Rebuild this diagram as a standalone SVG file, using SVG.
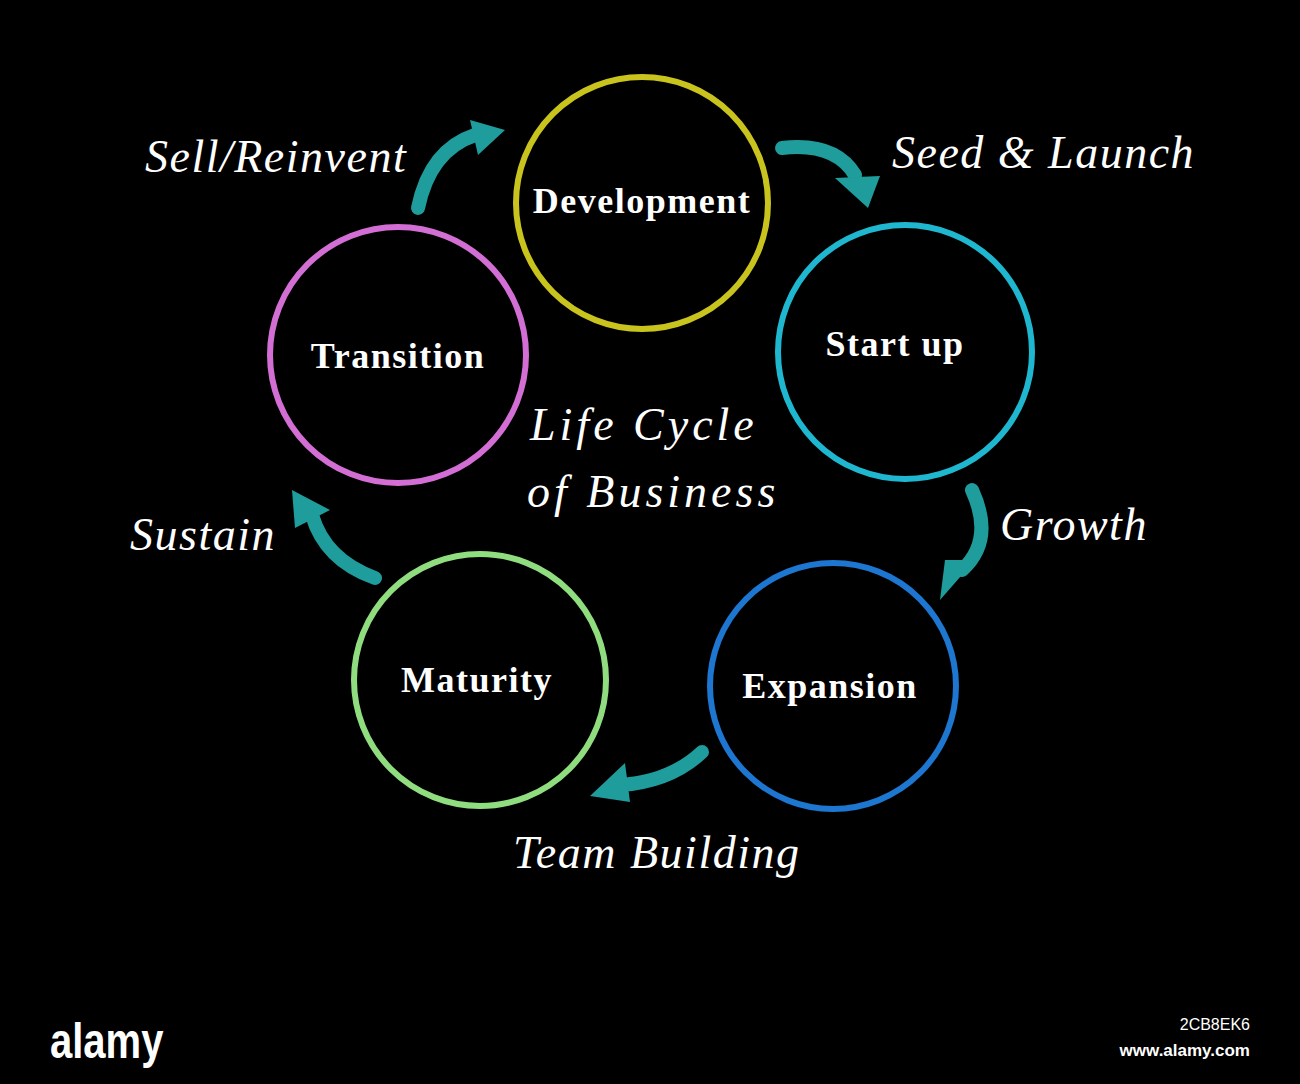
<svg xmlns="http://www.w3.org/2000/svg" width="1300" height="1084" viewBox="0 0 1300 1084">
<defs>
<style>
.c{fill:none;stroke-width:6}
.n{font-family:"Liberation Serif",serif;font-weight:bold;font-size:36px;fill:#fff;text-anchor:middle;letter-spacing:1.5px}
.l{font-family:"Liberation Serif",serif;font-style:italic;font-size:46px;fill:#fff;letter-spacing:1.5px}
.a{fill:none;stroke:#1f9c9c;stroke-width:14;stroke-linecap:round}
.h{fill:#1f9c9c}
</style>
</defs>
<rect width="1300" height="1084" fill="#000"/>
<g id="development"><circle class="c" cx="642" cy="203" r="126" stroke="#c9c31e"/><text class="n" x="642" y="213">Development</text></g>
<g id="startup"><circle class="c" cx="905" cy="352" r="127" stroke="#1fb7cf"/><text class="n" x="895" y="356">Start up</text></g>
<g id="expansion"><circle class="c" cx="833" cy="686" r="123" stroke="#1d76d0"/><text class="n" x="830" y="698">Expansion</text></g>
<g id="maturity"><circle class="c" cx="480" cy="680" r="126" stroke="#8fdd7f"/><text class="n" x="477" y="692">Maturity</text></g>
<g id="transition"><circle class="c" cx="398" cy="355" r="128" stroke="#d26ed4"/><text class="n" x="398" y="368">Transition</text></g>
<g id="connectors">
<path class="a" d="M782 148 Q835 142 855 175"/><polygon class="h" points="835,178 880,176 868,208"/>
<path class="a" d="M972 490 Q995 540 962 570"/><polygon class="h" points="975,560 940,600 945,560"/>
<path class="a" d="M702 752 Q670 782 620 785"/><polygon class="h" points="625,763 590,796 630,802"/>
<path class="a" d="M375 578 Q325 560 312 515"/><polygon class="h" points="295,528 292,490 330,510"/>
<path class="a" d="M418 208 Q430 150 475 135"/><polygon class="h" points="470,120 505,130 478,155"/>
</g>
<g id="labels">
<text class="l" x="145" y="172">Sell/Reinvent</text>
<text class="l" x="892" y="168">Seed &amp; Launch</text>
<text class="l" x="1000" y="540">Growth</text>
<text class="l" x="130" y="550">Sustain</text>
<text class="l" x="513" y="868">Team Building</text>
<text class="l" x="530" y="440" style="letter-spacing:4px">Life Cycle</text>
<text class="l" x="527" y="507" style="letter-spacing:4px">of Business</text>
</g>
<g id="watermark">
<text x="50" y="1058" font-family="Liberation Sans,sans-serif" font-weight="bold" font-size="50" fill="#fff" transform="translate(50 0) scale(0.8 1) translate(-50 0)">alamy</text>
<text x="1250" y="1030" font-family="Liberation Sans,sans-serif" font-size="16" fill="#fff" text-anchor="end">2CB8EK6</text>
<text x="1250" y="1056" font-family="Liberation Sans,sans-serif" font-size="17" font-weight="bold" fill="#fff" text-anchor="end">www.alamy.com</text>
</g>
</svg>
